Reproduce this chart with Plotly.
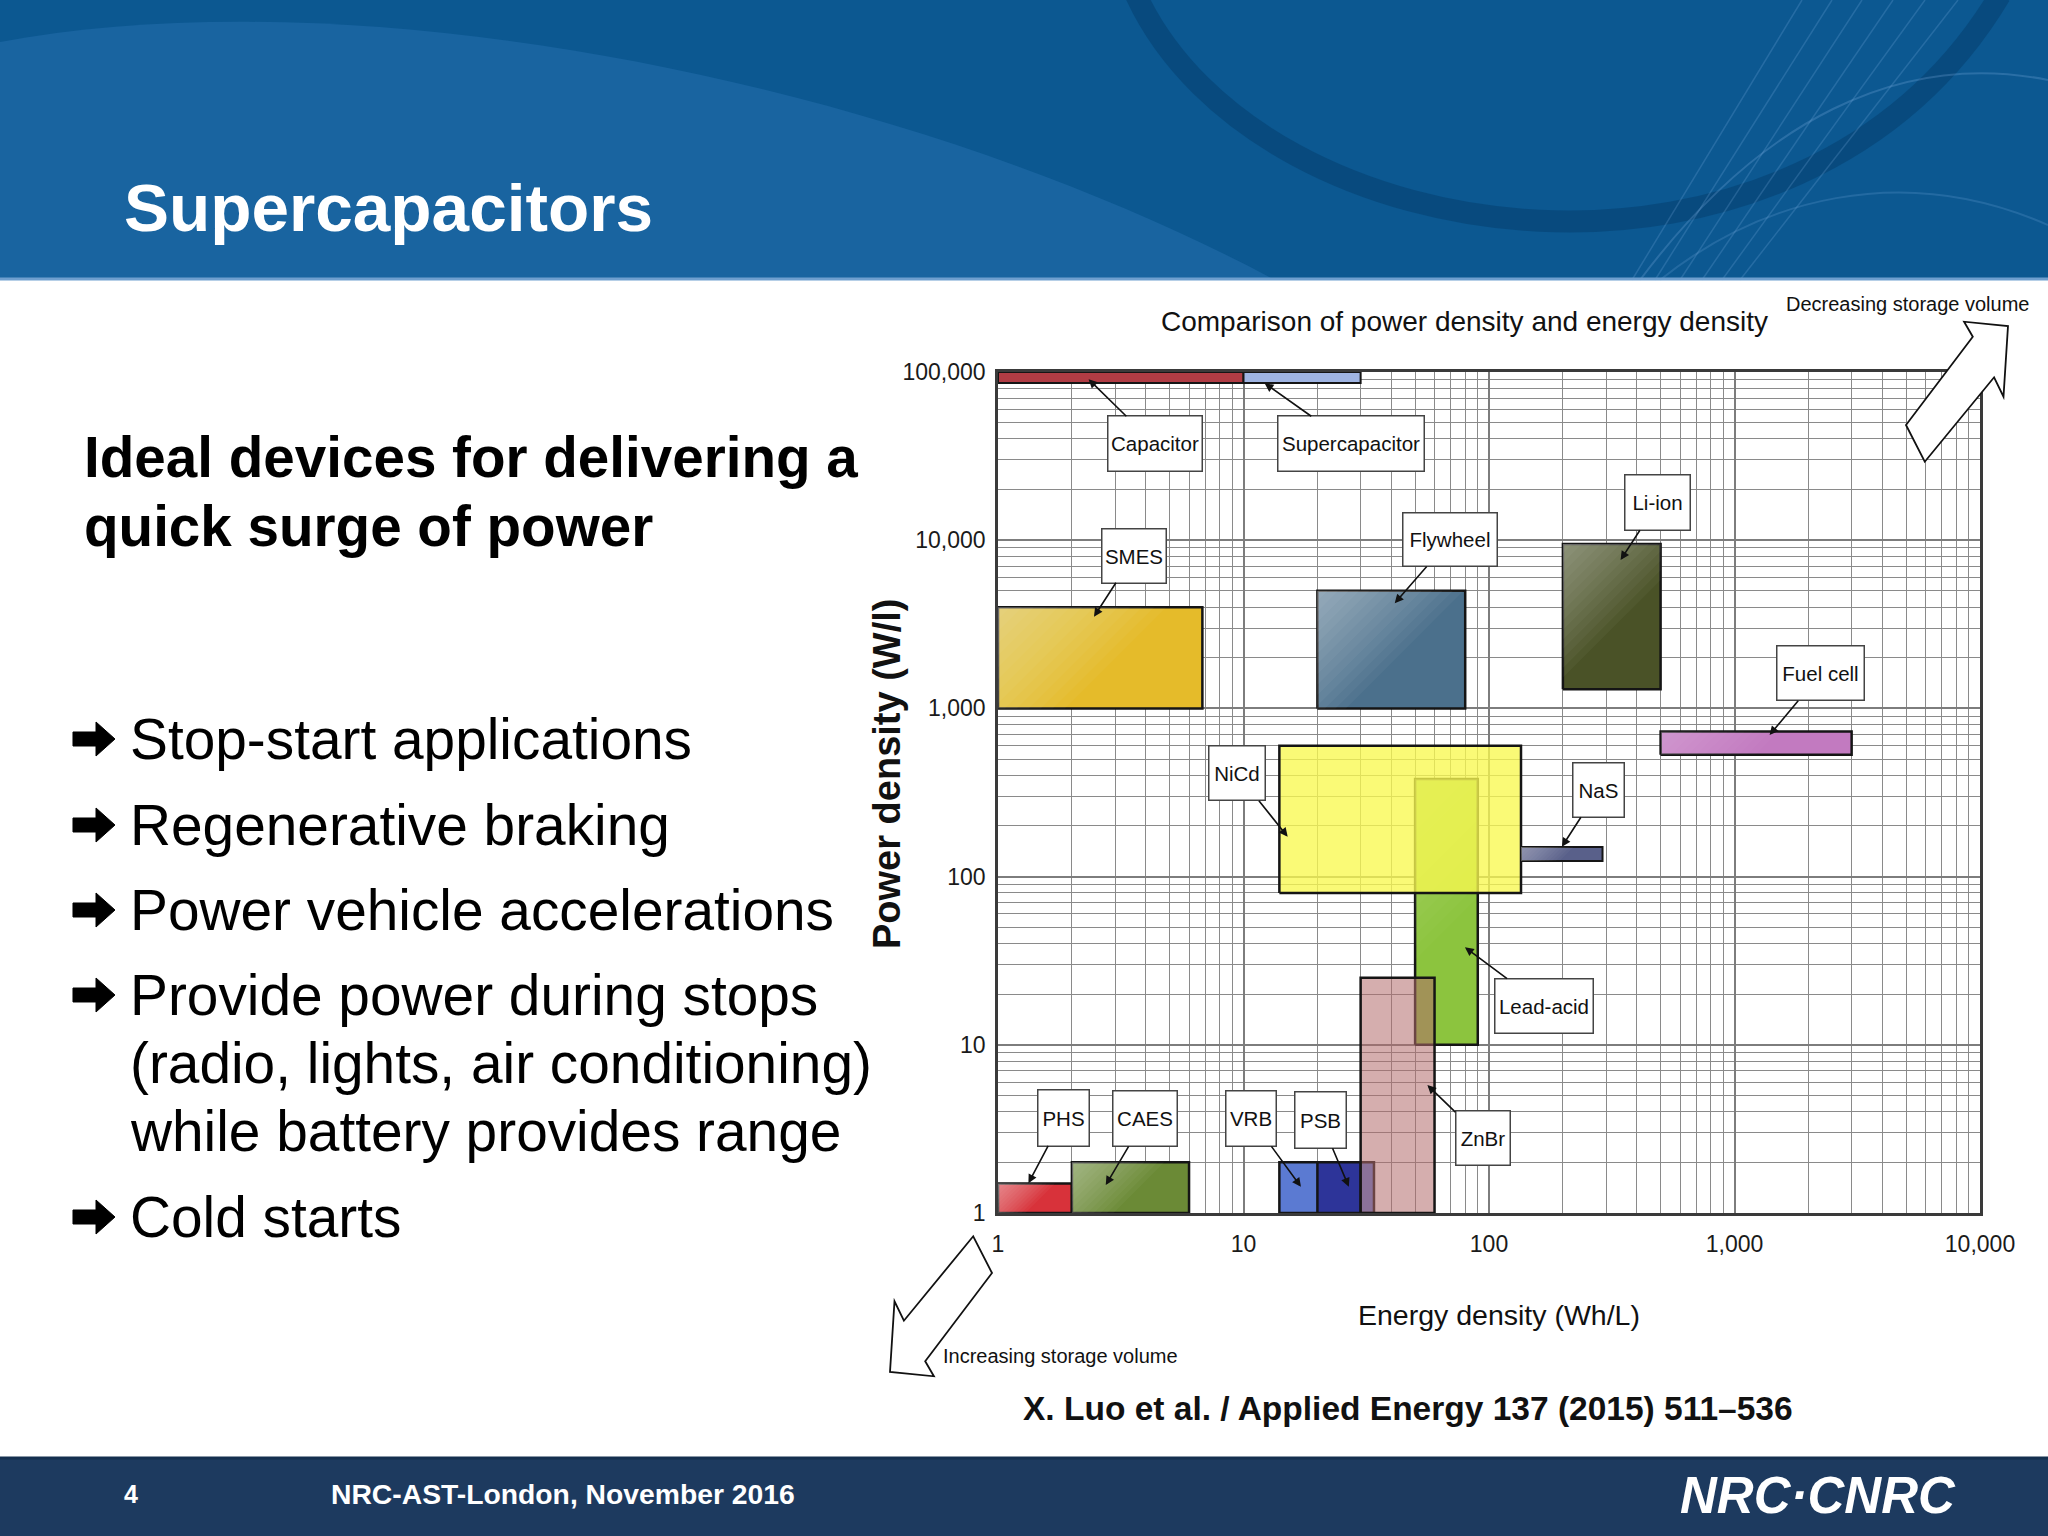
import numpy as np
import plotly.graph_objects as go

W, H = 2048, 1536

# ------------------------------------------------------------------ data
devices = ["PHS", "CAES", "VRB", "PSB", "Lead-acid", "ZnBr", "NiCd", "NaS",
           "Fuel cell", "Li-ion", "Flywheel", "SMES", "Capacitor", "Supercapacitor"]
energy_min = [1, 2, 14, 20, 50, 30, 14, 135, 500, 200, 20, 1, 1, 10]          # Wh/L
energy_max = [2, 6, 34, 30, 90, 60, 135, 290, 3000, 500, 80, 6.8, 10, 30]     # Wh/L
power_min = [1, 1, 1, 1, 10, 1, 80, 124, 530, 1300, 1000, 1000, 86000, 86000]  # W/l
power_max = [1.5, 2, 2, 2, 380, 25, 600, 150, 730, 9500, 5000, 4000, 100000, 100000]

x_tick_vals = [1, 10, 100, 1000, 10000]
x_tick_text = ["1", "10", "100", "1,000", "10,000"]
y_tick_vals = [1, 10, 100, 1000, 10000, 100000]
y_tick_text = ["1", "10", "100", "1,000", "10,000", "100,000"]

bullets = ["Stop-start applications", "Regenerative braking", "Power vehicle accelerations",
           "Provide power during stops", "(radio, lights, air conditioning)",
           "while battery provides range", "Cold starts"]
bullet_has_marker = [True, True, True, True, False, False, True]

# ------------------------------------------------------------------ styles
SANS = "Liberation Sans, Arial, Helvetica, sans-serif"

fills = {
    "PHS": "#d8323a", "CAES": "#6b8a36", "VRB": "#5b7ad2", "PSB": "#2d3499",
    "Lead-acid": "#8cc43e", "ZnBr": "rgba(178,108,108,0.55)", "NiCd": "rgba(248,248,80,0.78)",
    "NaS": "#59608a", "Fuel cell": "#c27ac0", "Li-ion": "#4a5227", "Flywheel": "#4b708c",
    "SMES": "#e5bb2a", "Capacitor": "#b03c44", "Supercapacitor": "#9fb4e2",
}
gloss = {"PHS": 0.55, "CAES": 0.5, "Lead-acid": 0.25, "Li-ion": 0.5, "Flywheel": 0.55,
         "SMES": 0.5, "Fuel cell": 0.25, "NaS": 0.45}

# label placement (log10 units): arrow tip (x, y), box centre (x, y), box size px
labels = {
    "Capacitor":      (0.369, 4.957, 0.638, 4.572, 95, 56),
    "Supercapacitor": (1.086, 4.933, 1.436, 4.572, 147, 56),
    "SMES":           (0.391, 3.545, 0.552, 3.909, 65, 55),
    "Flywheel":       (1.616, 3.625, 1.841, 4.003, 95, 54),
    "Li-ion":         (2.536, 3.882, 2.688, 4.224, 66, 56),
    "Fuel cell":      (3.143, 2.842, 3.352, 3.208, 88, 55),
    "NiCd":           (1.180, 2.237, 0.974, 2.613, 57, 55),
    "PHS":            (0.124, 0.177, 0.265, 0.567, 52, 57),
    "CAES":           (0.439, 0.166, 0.599, 0.561, 65, 56),
    "VRB":            (1.234, 0.156, 1.031, 0.561, 51, 56),
    "PSB":            (1.429, 0.156, 1.314, 0.553, 52, 57),
    "NaS":            (2.297, 2.178, 2.446, 2.515, 52, 55),
    "Lead-acid":      (1.902, 1.580, 2.223, 1.232, 99, 55),
    "ZnBr":           (1.749, 0.761, 1.974, 0.443, 55, 55),
}

# plot area in page pixels
PX0, PX1, PY0, PY1 = 998, 1980, 372, 1213
XDEC = (PX1 - PX0) / 4.0
YDEC = (PY1 - PY0) / 5.0


def fx(x):
    return x / W


def fy(y):
    return 1 - y / H


def path(points, close=True):
    s = "M " + " L ".join(f"{fx(x):.5f},{fy(y):.5f}" for x, y in points)
    return s + (" Z" if close else "")


fig = go.Figure()

# ------------------------------------------------------------------ boxes
N_GLOSS = 14
for name, e0, e1, p0, p1 in zip(devices, energy_min, energy_max, power_min, power_max):
    fig.add_trace(go.Scatter(
        x=[e0, e1, e1, e0, e0], y=[p0, p0, p1, p1, p0], mode="lines",
        fill="toself", fillcolor=fills[name],
        line=dict(color="#151515", width=2.5 if p1 / p0 > 1.3 else 2),
        hoverinfo="skip", showlegend=False))
    if name in gloss:
        lx0, lx1, ly0, ly1 = np.log10(e0), np.log10(e1), np.log10(p0), np.log10(p1)
        wpx, hpx = (lx1 - lx0) * XDEC, (ly1 - ly0) * YDEC
        D = 0.55 * (wpx + hpx)
        for k in range(N_GLOSS):
            L = D * (1 - k / N_GLOSS)
            uv = [(0, 0), (min(L, wpx), 0)]
            if L > wpx:
                uv.append((wpx, min(L - wpx, hpx)))
            if L > hpx:
                uv.append((min(L - hpx, wpx), hpx))
            uv.append((0, min(L, hpx)))
            uv.append((0, 0))
            gx = [10 ** (lx0 + u / XDEC) for u, v in uv]
            gy = [10 ** (ly1 - v / YDEC) for u, v in uv]
            fig.add_trace(go.Scatter(
                x=gx, y=gy, mode="lines", fill="toself",
                fillcolor=f"rgba(255,255,255,{gloss[name] / N_GLOSS:.4f})", line=dict(width=0),
                hoverinfo="skip", showlegend=False))

# ------------------------------------------------------------------ axes
minor_x = [m * 10 ** d for d in range(0, 4) for m in range(2, 10)]
minor_y = [m * 10 ** d for d in range(0, 5) for m in range(2, 10)]

fig.update_xaxes(
    type="log", range=[0, 4], domain=[PX0 / W, PX1 / W],
    tickmode="array", tickvals=x_tick_vals, ticktext=x_tick_text,
    tickfont=dict(family=SANS, size=23, color="#1a1a1a"), ticks="", ticklabelstandoff=9,
    showgrid=True, gridcolor="#7d7d7d", gridwidth=1.6,
    minor=dict(tickmode="array", tickvals=minor_x, showgrid=True, gridcolor="#8a8a8a", gridwidth=1.3),
    showline=True, linecolor="#3a3a3a", linewidth=2.5, mirror=True, zeroline=False,
    automargin=False, fixedrange=True)
fig.update_yaxes(
    type="log", range=[0, 5], domain=[fy(PY1), fy(PY0)],
    tickmode="array", tickvals=y_tick_vals, ticktext=y_tick_text,
    tickfont=dict(family=SANS, size=23, color="#1a1a1a"), ticks="", ticklabelstandoff=5,
    showgrid=True, gridcolor="#7d7d7d", gridwidth=1.6,
    minor=dict(tickmode="array", tickvals=minor_y, showgrid=True, gridcolor="#8a8a8a", gridwidth=1.3),
    showline=True, linecolor="#3a3a3a", linewidth=2.5, mirror=True, zeroline=False,
    automargin=False, fixedrange=True)

# ------------------------------------------------------------------ slide decoration
shapes = []
# header band
shapes.append(dict(type="rect", xref="paper", yref="paper", x0=0, x1=1, y0=fy(280), y1=1,
                   fillcolor="#0c5891", line_width=0, layer="below"))
shapes.append(dict(type="path", xref="paper", yref="paper", layer="below",
                   path=f"M {fx(0)},{fy(42)} C {fx(360)},{fy(-25)} {fx(900)},{fy(80)} {fx(1275)},{fy(280)} "
                        f"L {fx(0)},{fy(280)} Z",
                   fillcolor="#1964a0", line_width=0))
shapes.append(dict(type="path", xref="paper", yref="paper", layer="below",
                   path=f"M {fx(1136)},{fy(-5)} C {fx(1260)},{fy(262)} {fx(1800)},{fy(330)} {fx(2000)},{fy(-5)}",
                   line=dict(color="rgba(6,64,112,0.55)", width=22)))
for bx, tx in [(1632, 1802), (1655, 1832), (1680, 1862), (1702, 1893), (1722, 1925), (1740, 1958)]:
    shapes.append(dict(type="line", xref="paper", yref="paper", layer="below",
                       x0=fx(bx), y0=fy(280), x1=fx(tx), y1=fy(0),
                       line=dict(color="rgba(130,180,230,0.22)", width=1.5)))
shapes.append(dict(type="path", xref="paper", yref="paper", layer="below",
                   path=f"M {fx(1640)},{fy(280)} C {fx(1760)},{fy(120)} {fx(1900)},{fy(50)} {fx(2048)},{fy(80)}",
                   line=dict(color="rgba(130,180,230,0.25)", width=2)))
shapes.append(dict(type="path", xref="paper", yref="paper", layer="below",
                   path=f"M {fx(1660)},{fy(280)} C {fx(1760)},{fy(200)} {fx(1900)},{fy(160)} {fx(2048)},{fy(225)}",
                   line=dict(color="rgba(130,180,230,0.2)", width=2)))
shapes.append(dict(type="line", xref="paper", yref="paper", layer="below",
                   x0=0, x1=1, y0=fy(279), y1=fy(279), line=dict(color="#6f9fcf", width=3)))
# footer band
shapes.append(dict(type="rect", xref="paper", yref="paper", x0=0, x1=1, y0=0, y1=fy(1457),
                   fillcolor="#1d3a5f", line_width=0, layer="below"))
shapes.append(dict(type="line", xref="paper", yref="paper", layer="below",
                   x0=0, x1=1, y0=fy(1458), y1=fy(1458), line=dict(color="#15304f", width=3)))

# hollow direction arrows (same outline, up-right and down-left)
arrow_rel = [(0, 0), (-4.5, 70.7), (-13.9, 51.3), (-83.2, 135.7), (-102, 99), (-35.2, 10.7), (-43.9, -4.3)]
up_tip = (2008, 326)
dn_tip = (890, 1372)
shapes.append(dict(type="path", xref="paper", yref="paper",
                   path=path([(up_tip[0] + a, up_tip[1] + b) for a, b in arrow_rel]),
                   fillcolor="white", line=dict(color="#111", width=1.8)))
shapes.append(dict(type="path", xref="paper", yref="paper",
                   path=path([(dn_tip[0] - a, dn_tip[1] - b) for a, b in arrow_rel]),
                   fillcolor="white", line=dict(color="#111", width=1.8)))

# bullet arrows
bullet_y = [739, 825, 910, 995, 1063, 1131, 1217]
for yc, has in zip(bullet_y, bullet_has_marker):
    if has:
        pts = [(73, yc - 7), (96, yc - 7), (96, yc - 17), (115, yc), (96, yc + 17), (96, yc + 7), (73, yc + 7)]
        shapes.append(dict(type="path", xref="paper", yref="paper", path=path(pts),
                           fillcolor="black", line=dict(color="black", width=1)))

# ------------------------------------------------------------------ text
ann = []


def text(x, y, s, size, family=SANS, color="black", xanchor="center", yanchor="middle", **kw):
    ann.append(dict(x=fx(x), y=fy(y), xref="paper", yref="paper", text=s, showarrow=False,
                    font=dict(family=family, size=size, color=color),
                    xanchor=xanchor, yanchor=yanchor, **kw))


text(122, 207, "<b>Supercapacitors</b>", 67.5, color="white", xanchor="left")
text(82, 457, "<b>Ideal devices for delivering a</b>", 56.6, xanchor="left")
text(82, 526, "<b>quick surge of power</b>", 56.6, xanchor="left")
for yc, s in zip(bullet_y, bullets):
    text(128, yc, s, 56.8, xanchor="left")

text(1464, 321, "Comparison of power density and energy density", 28, color="#111")
text(1907, 304, "Decreasing storage volume", 20, color="#111")
text(1060, 1356, "Increasing storage volume", 20, color="#111")
text(1499, 1315, "Energy density (Wh/L)", 28.5, color="#111")
text(887, 774, "<b>Power density (W/l)</b>", 38, color="#111", textangle=-90)
text(1408, 1408, "<b>X. Luo et al. / Applied Energy 137 (2015) 511–536</b>", 33.5, color="#111")

text(131, 1494, "<b>4</b>", 25, color="white")
text(329, 1494, "<b>NRC-AST-London, November 2016</b>", 28.3, color="white", xanchor="left")
text(1818, 1495, "<b><i>NRC·CNRC</i></b>", 51, color="white")

# callout labels with arrows (data coordinates, log10 units)
for name, (tx, ty, bx, by, bw, bh) in labels.items():
    ann.append(dict(x=tx, y=ty, xref="x", yref="y", ax=bx, ay=by, axref="x", ayref="y",
                    text=name, showarrow=True, arrowhead=2, arrowsize=1.1, arrowwidth=1.6,
                    arrowcolor="#111", font=dict(family=SANS, size=20.5, color="#111"),
                    bgcolor="white", bordercolor="#444", borderwidth=1.5, borderpad=1,
                    width=bw - 4, height=bh - 4, align="center", valign="middle"))

fig.update_layout(
    width=W, height=H, margin=dict(l=0, r=0, t=0, b=0),
    paper_bgcolor="white", plot_bgcolor="white",
    shapes=shapes, annotations=ann, showlegend=False)

fig.write_html("out.html")
